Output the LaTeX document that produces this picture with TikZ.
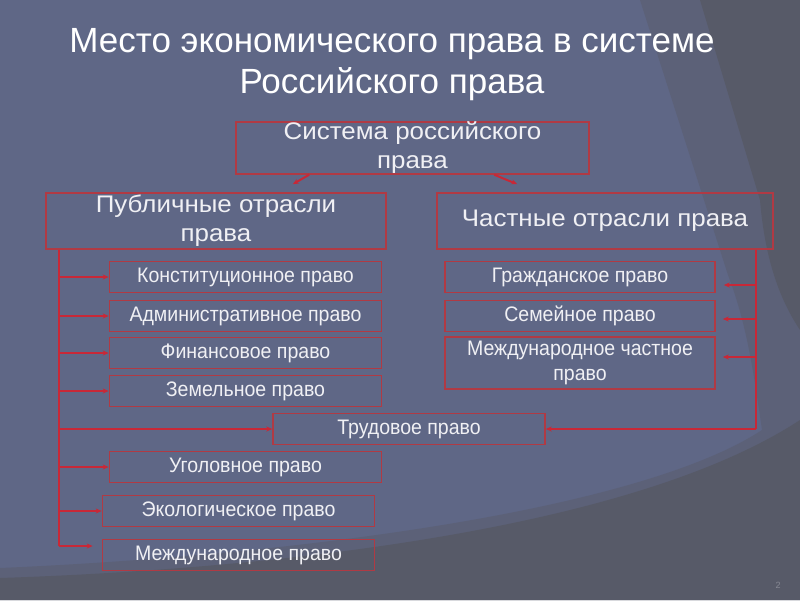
\documentclass[tikz,border=0pt]{standalone}
\usepackage{fontspec}
\setmainfont{Liberation Sans}
\newfontfamily\titlefont{Liberation Sans}
\newfontfamily\headfont[FakeStretch=1.08]{Liberation Sans}
\newfontfamily\smallfont[FakeStretch=0.93]{Liberation Sans}
\usetikzlibrary{arrows.meta,calc}
\definecolor{bg}{RGB}{95,103,134}
\definecolor{bgmid}{RGB}{92,97,120}
\definecolor{bgdark}{RGB}{87,90,104}
\definecolor{boxred}{RGB}{176,58,68}
\definecolor{arrred}{RGB}{200,40,55}
\definecolor{txt}{RGB}{240,240,244}
\definecolor{pgnum}{RGB}{135,137,148}
\begin{document}
\begin{tikzpicture}[x=1pt,y=-1pt,
  box/.style={draw=boxred, line width=1.6pt, inner sep=0pt, text=txt, align=center},
  headbox/.style={box, font=\headfont\fontsize{24}{29}\selectfont},
  lawbox/.style={box, minimum width=272pt, minimum height=31pt, font=\smallfont\fontsize{21}{25}\selectfont},
  spine/.style={draw=arrred, line width=2pt},
  conn/.style={spine, -{Stealth[length=6pt,width=5pt]}}]
% background
\fill[bg] (0,0) rectangle (800,600);
\useasboundingbox (0,0) rectangle (800,600);
\fill[bgmid] (640,0) -- (800,0) -- (800,600) -- (0,600) -- (0,568)
  .. controls (300,555) and (640,510) .. (762,430)
  .. controls (752,360) and (745,320) .. (728,275) -- cycle;
\fill[bgdark] (700,0) -- (800,0) -- (800,600) -- (0,600) -- (0,578)
  .. controls (300,568) and (640,525) .. (800,420)
  -- (800,330) .. controls (780,300) and (765,260) .. (760,200) -- cycle;
% title
\node[font=\titlefont\fontsize{35}{41}\selectfont, text=white, align=center] (title) at (392,65)
  {Место экономического права в системе\\Российского права};
% head boxes
\node[headbox, minimum width=353pt, minimum height=50pt] (sys) at (412.5,148) {Система российского\\права};
\node[headbox, minimum width=340pt, minimum height=56pt] (pub) at (216,221) {Публичные отрасли\\права};
\node[headbox, minimum width=336pt, minimum height=56pt] (priv) at (605,221) {Частные отрасли права};
% public branches
\node[lawbox] (konst) at (245.5,277) {Конституционное право};
\node[lawbox] (admin) at (245.5,316) {Административное право};
\node[lawbox] (fin) at (245.5,353) {Финансовое право};
\node[lawbox] (zem) at (245.5,391) {Земельное право};
\node[lawbox] (trud) at (409,429) {Трудовое право};
\node[lawbox] (ugol) at (245.5,467) {Уголовное право};
\node[lawbox] (eko) at (238.5,511) {Экологическое право};
\node[lawbox] (mezhd) at (238.5,555) {Международное право};
% private branches
\node[lawbox, minimum width=270pt] (grazh) at (580,277) {Гражданское право};
\node[lawbox, minimum width=270pt] (sem) at (580,316) {Семейное право};
\node[lawbox, minimum width=270pt, minimum height=52pt] (mchp) at (580,363) {Международное частное\\право};
% arrows from the system
\draw[conn] ($(sys.south west)+(74,0)$) -- ($(pub.north east)+(-94,-8)$);
\draw[conn] ($(sys.south west)+(259,0)$) -- ($(priv.north west)+(81,-8)$);
% left spine
\coordinate (L) at ($(pub.south west)+(14,0)$);
\coordinate (Lend) at ($(mezhd.west)+(-9,-9)$);
\draw[spine] (L) -- (L |- Lend);
\draw[conn] (L |- konst.west) -- (konst.west);
\draw[conn] (L |- admin.west) -- (admin.west);
\draw[conn] (L |- fin.west) -- (fin.west);
\draw[conn] (L |- zem.west) -- (zem.west);
\draw[conn] (L |- trud.west) -- (trud.west);
\draw[conn] (L |- ugol.west) -- (ugol.west);
\draw[conn] (L |- eko.west) -- (eko.west);
\draw[conn] (L |- Lend) -- (Lend);
% right spine
\coordinate (R) at ($(priv.south east)+(-18,0)$);
\coordinate (Rg) at ($(grazh.east)+(8,8)$);
\coordinate (Rs) at ($(sem.east)+(7,3)$);
\coordinate (Rm) at ($(mchp.east)+(7,-6)$);
\draw[spine] (R) -- (R |- trud.east);
\draw[conn] (R |- Rg) -- (Rg);
\draw[conn] (R |- Rs) -- (Rs);
\draw[conn] (R |- Rm) -- (Rm);
\draw[conn] (R |- trud.east) -- (trud.east);
% page number
\node[text=pgnum, font=\fontsize{9}{9}\selectfont] (pg) at (778,585) {2};
\end{tikzpicture}
\end{document}
